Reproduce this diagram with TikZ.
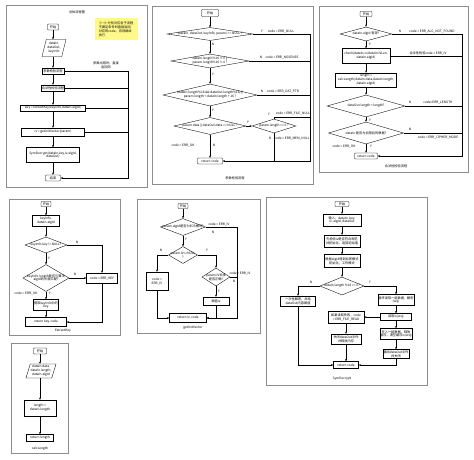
\documentclass[tikz,border=0pt]{standalone}
\usepackage{fontspec}
\setmainfont{Noto Sans CJK SC}
\usetikzlibrary{positioning,arrows.meta,shapes.geometric}

\begin{document}
\begin{tikzpicture}[
    x=1pt, y=-1pt,
    font=\fontsize{3.2}{3.9}\selectfont,
    line width=0.35pt,
    panel/.style={draw=black!45, line width=0.7pt},
    proc/.style={draw, align=center, inner sep=0.3pt},
    term/.style={draw, rounded corners=0.8pt, align=center, inner sep=0.3pt},
    dec/.style={diamond, draw, inner sep=0pt},
    dtxt/.style={align=center, inner sep=0pt},
    io/.style={trapezium, trapezium left angle=70, trapezium right angle=110, trapezium stretches body=true, draw, align=center, inner sep=0.3pt},
    note/.style={fill=yellow!45, align=left, inner sep=1pt},
    lab/.style={inner sep=0pt},
    edge/.style={-{Stealth[length=2.2pt, width=1.8pt]}}
]
\useasboundingbox (0,0) rectangle (474,460);

% overall flow
\draw[panel] (6,5) rectangle (147,187);
\node[lab] (t1) at (77,12) {总体流程图};
\node[note, minimum width=43pt, minimum height=22pt] (n1) at (116,29) {①\textasciitilde④ 分别对应各子流程\\不满足条件时直接返回\\对应的code，否则继续\\执行};
\node[term, minimum width=11pt, minimum height=6pt] (a0) at (53,27) {开始};
\node[io, minimum width=24pt, minimum height=17pt] (a1) at (54,48) {dataIn,\\dataOut,\\keyInfo};
\node[proc, minimum width=22pt, minimum height=6pt] (a2) at (53,71) {参数检验流程};
\node[proc, minimum width=22pt, minimum height=6pt] (a3) at (53,88) {合法性检验流程};
\node[proc, minimum width=65pt, minimum height=6pt] (a4) at (53,108) {key = ExtractKey(keyInfo,dataIn.algId)};
\node[proc, minimum width=63pt, minimum height=8pt] (a5) at (53,132) {iv = getInitVector(param)};
\node[proc, minimum width=53pt, minimum height=15pt] (a6) at (53,155) {SymDecrypt(dataIn,key,iv,algId,\\dataOut)};
\node[term, minimum width=15pt, minimum height=6pt] (a7) at (53,178) {结束};
\node[lab, align=center] (l1) at (106,65) {参数出错时，直接\\返回码};
\coordinate (p1r) at (128,0);

\draw[edge] (a0) -- (a0 |- a1.north);
\draw[edge] (a1.south -| a0) -- (a2);
\draw[edge] (a2) -- (a3);
\draw[edge] (a3) -- (a4);
\draw[edge] (a4) -- (a5);
\draw[edge] (a5) -- (a6);
\draw[edge] (a6) -- (a7);
\draw (a3.east) -- (a3.east -| p1r);
\draw (a4.east) -- (a4.east -| p1r);
\draw (a5.east) -- (a5.east -| p1r);
\draw[edge] (a2.east) -- (a2.east -| p1r) -- (a7.east -| p1r) -- (a7.east);

% parameter check
\draw[panel] (152,6) rectangle (313,184);
\node[term, minimum width=17pt, minimum height=7pt] (b0) at (210,13) {开始};
\node[dec, minimum width=86pt, minimum height=13pt, label={[dtxt]center:{(dataIn, dataOut, keyInfo, param) == NULL ?}}] (b1) at (210,34) {};
\node[dec, minimum width=78pt, minimum height=14pt, label={[dtxt]center:{dataIn.length\%16 != 0 ||\\param.length\%16 != 0 ?}}] (b2) at (210,61) {};
\node[dec, minimum width=94pt, minimum height=22pt, label={[dtxt]center:{(dataIn.length\%16 \&\& dataOut.length\%16) ||\\param.length < dataIn.length + 16 ?}}] (b3) at (210,95) {};
\node[dec, minimum width=72pt, minimum height=17pt, label={[dtxt]center:{param.data || dataOut.data == NULL ?}}] (b4) at (210,126) {};
\node[dec, minimum width=44pt, minimum height=14pt, label={[dtxt]center:{param.length == 0 ?}}] (b5) at (274,126) {};
\node[term, minimum width=25pt, minimum height=6pt] (b6) at (210,161) {return code};
\node[lab] (t2) at (235,178) {参数检验流程};
\coordinate (p2r) at (310,0);
\coordinate (b5t) at (274,117);

\node[lab] (l2a) at (262,31) {Y};
\node[lab] (l2b) at (281,31) {code = ERR\_NULL};
\node[lab] (l2c) at (213,44) {N};
\node[lab] (l2d) at (261,57) {N};
\node[lab] (l2e) at (282,57) {code = ERR\_NOSENSE};
\node[lab] (l2f) at (213,74) {Y};
\node[lab] (l2g) at (262,91) {N};
\node[lab] (l2h) at (283,91) {code = ERR\_DAT\_PTR};
\node[lab] (l2i) at (213,110) {Y};
\node[lab] (l2j) at (248,122) {Y};
\node[lab] (l2k) at (269,114) {Y};
\node[lab] (l2l) at (293,113) {code = ERR\_FILE\_NULL};
\node[lab] (l2m) at (270,138) {N};
\node[lab] (l2n) at (292,138) {code = ERR\_MEM\_NULL};
\node[lab] (l2o) at (183,145) {code = ERR\_OK};
\node[lab] (l2p) at (214,145) {N};

\draw[edge] (b0) -- (b1);
\draw[edge] (b1) -- (b2);
\draw[edge] (b2) -- (b3);
\draw[edge] (b3) -- (b4);
\draw[edge] (b4) -- (b6);
\draw[edge] (b4) -- (b5);
\draw (b1.east) -- (b1.east -| p2r);
\draw (b2.east) -- (b2.east -| p2r);
\draw (b3.east) -- (b3.east -| p2r);
\draw (b5.north) -- (b5t) -- (b5t -| p2r);
\draw (b5.south) -- (b5.south |- b6);
\draw[edge] (b1.east -| p2r) -- (b6.east -| p2r) -- (b6.east);

% validity check
\draw[panel] (319,6) rectangle (468,172);
\node[term, minimum width=12pt, minimum height=5pt] (c0) at (366,14) {开始};
\node[dec, minimum width=52pt, minimum height=14pt, label={[dtxt]center:{dataIn.algId 有效?}}] (c1) at (366,34) {};
\node[proc, minimum width=48pt, minimum height=15pt] (c2) at (366,56) {check(dataIn.iv/dataIn.IVLen,\\dataIn.algId)};
\node[proc, minimum width=61pt, minimum height=14pt] (c3) at (366,80) {length =\\calcLength(dataIn.data,dataIn.length,\\dataIn.algId)};
\node[dec, minimum width=78pt, minimum height=22pt, label={[dtxt]center:{dataOut.length < length?}}] (c4) at (366,106) {};
\node[dec, minimum width=75pt, minimum height=22pt, label={[dtxt]center:{dataIn 是否为加密后的数据?}}] (c5) at (366,133) {};
\node[term, minimum width=23pt, minimum height=6pt] (c6) at (366,156) {return code};
\node[lab] (t3) at (396,166) {合法性检验流程};
\coordinate (p3r) at (462,0);

\node[lab] (l3a) at (400,31) {N};
\node[lab] (l3b) at (432,31) {code = ERR\_ALG\_NOT\_FOUND};
\node[lab] (l3c) at (370,44) {Y};
\node[lab] (l3d) at (428,53) {合法性检验code = ERR\_IV};
\node[lab] (l3e) at (410,102) {N};
\node[lab] (l3f) at (438,102) {code=ERR\_LENGTH};
\node[lab] (l3g) at (370,120) {Y};
\node[lab] (l3h) at (410,129) {N};
\node[lab] (l3i) at (438,137) {code = ERR\_CIPHER\_MODE};
\node[lab] (l3j) at (344,146) {code = ERR\_OK};
\node[lab] (l3k) at (371,146) {Y};

\draw[edge] (c0) -- (c1);
\draw[edge] (c1) -- (c2);
\draw[edge] (c2) -- (c3);
\draw[edge] (c3) -- (c4);
\draw[edge] (c4) -- (c5);
\draw[edge] (c5) -- (c6);
\draw (c2.east) -- (c2.east -| p3r);
\draw (c4.east) -- (c4.east -| p3r);
\draw (c5.east) -- (c5.east -| p3r);
\draw[edge] (c1.east) -- (c1.east -| p3r) -- (c6.east -| p3r) -- (c6.east);

% ExtractKey
\draw[panel] (9,199) rectangle (120,335);
\node[term, minimum width=10pt, minimum height=5pt] (d0) at (46,204) {开始};
\node[proc, minimum width=27pt, minimum height=11pt] (d1) at (46,221) {keyInfo,\\dataIn.algId};
\node[dec, minimum width=42pt, minimum height=16pt, label={[dtxt]center:{keyInfo.key != NULL?}}] (d2) at (46,245) {};
\node[dec, minimum width=46pt, minimum height=27pt, label={[dtxt]center:{keyInfo.length是否与算法\\algId的长度匹配?}}] (d3) at (46,278) {};
\node[proc, minimum width=31pt, minimum height=10pt] (d4) at (102,278) {code = ERR\_KEY};
\node[proc, minimum width=25pt, minimum height=11pt] (d5) at (46,305) {提取keyInfo中的\\key};
\node[proc, minimum width=41pt, minimum height=9pt] (d6) at (46,322) {return key, code};
\node[lab] (t4) at (63,331) {ExtractKey};

\node[lab] (l4a) at (77,242) {N};
\node[lab] (l4b) at (49,258) {Y};
\node[lab] (l4c) at (75,274) {N};
\node[lab] (l4d) at (26,293) {code = ERR\_OK};
\node[lab] (l4e) at (50,293) {Y};

\draw[edge] (d0) -- (d1);
\draw[edge] (d1) -- (d2);
\draw[edge] (d2) -- (d3);
\draw[edge] (d2.east) -| (d4.north);
\draw[edge] (d3) -- (d4);
\draw[edge] (d3) -- (d5);
\draw[edge] (d5) -- (d6);
\draw[edge] (d4.south) |- (d6.east);

% getInitVector
\draw[panel] (137,199) rectangle (260,333);
\node[term, minimum width=10pt, minimum height=5pt] (e0) at (183,206) {开始};
\node[dec, minimum width=45pt, minimum height=17pt, label={[dtxt]center:{param.algId是否为ECB模式?}}] (e1) at (183,227) {};
\node[dec, minimum width=29pt, minimum height=17pt, label={[dtxt]center:{param.IV==NULL\\?}}] (e2) at (183,255) {};
\node[proc, minimum width=22pt, minimum height=18pt] (e3) at (157,281) {code =\\ERR\_IV};
\node[dec, minimum width=28pt, minimum height=18pt, label={[dtxt]center:{param.IV长度\\是否正确?}}] (e4) at (216,277) {};
\node[proc, minimum width=26pt, minimum height=8pt] (e5) at (216,301) {赋值iv};
\node[proc, minimum width=37pt, minimum height=9pt] (e6) at (188,318) {return iv, code};
\node[lab] (t5) at (193,328) {getInitVector};
\coordinate (p5r) at (237,0);

\node[lab] (l5a) at (219,224) {code = ERR\_IV};
\node[lab] (l5b) at (213,232) {N};
\node[lab] (l5c) at (186,239) {Y};
\node[lab] (l5d) at (161,250) {N};
\node[lab] (l5e) at (207,250) {Y};
\node[lab] (l5f) at (240,273) {code = ERR\_IV};
\node[lab] (l5g) at (234,281) {N};
\node[lab] (l5h) at (219,291) {Y};

\draw[edge] (e0) -- (e1);
\draw[edge] (e1) -- (e2);
\draw[edge] (e2.west) -| (e3.north);
\draw[edge] (e2.east) -| (e4.north);
\draw[edge] (e4) -- (e5);
\draw (e4.east) -- (e4.east -| p5r);
\draw[edge] (e1.east) -| (p5r |- e6.east) -- (e6.east);
\draw[edge] (e3.south) |- (e6.west);
\draw[edge] (e5.south) |- (e6.east);

% SymDecrypt
\draw[panel] (266,197) rectangle (427,385);
\node[term, minimum width=14pt, minimum height=5pt] (f0) at (342,204) {开始};
\node[proc, minimum width=38pt, minimum height=12pt] (f1) at (342,220) {输入：dataIn, key,\\iv, algId, dataOut};
\node[proc, minimum width=36pt, minimum height=12pt] (f2) at (342,241) {先检验iv是否符合规范\\并初始化，返回初始值};
\node[proc, minimum width=36pt, minimum height=13pt] (f3) at (342,261) {根据algId得到加密模式\\初始化，工作模式};
\node[dec, minimum width=44pt, minimum height=18pt, label={[dtxt]center:{dataIn.length \%16 == 0?}}] (f4) at (342,286) {};
\node[proc, minimum width=35pt, minimum height=10pt] (f5) at (298,301) {一次性解密，并给\\dataOut内容赋值};
\node[proc, minimum width=35pt, minimum height=11pt] (f6) at (396,300) {循环读取一组数据，解密\\(wq)};
\node[proc, minimum width=31pt, minimum height=7pt] (f7) at (396,317) {读取iv(wq)};
\node[proc, minimum width=36pt, minimum height=12pt] (f8) at (346,317) {如果读取失败，code\\= ERR\_FILE\_READ};
\node[proc, minimum width=31pt, minimum height=11pt] (f9) at (396,334) {写入一组数据，释放\\缓存，清空缓存iv(wq)};
\node[proc, minimum width=22pt, minimum height=9pt] (f10) at (396,354) {输出dataOut文件\\并关闭};
\node[proc, minimum width=30pt, minimum height=10pt] (f11) at (346,339) {关闭dataOut文件\\并释放内存};
\node[proc, minimum width=25pt, minimum height=7pt] (f12) at (346,365) {return code};
\node[lab] (t6) at (342,379) {SymDecrypt};

\node[lab] (l6a) at (311,282) {N};
\node[lab] (l6b) at (370,282) {Y};

\draw[edge] (f0) -- (f1);
\draw[edge] (f1) -- (f2);
\draw[edge] (f2) -- (f3);
\draw[edge] (f3) -- (f4);
\draw[edge] (f4.west) -| (f5.north);
\draw[edge] (f4.east) -| (f6.north);
\draw[edge] (f6) -- (f7);
\draw[edge] (f7) -- (f8);
\draw[edge] (f7) -- (f9);
\draw[edge] (f9) -- (f10);
\draw[edge] (f8) -- (f11);
\draw[edge] (f11) -- (f12);
\draw[edge] (f5.south) |- (f12.west);
\draw[edge] (f10.south) |- (f12.east);

% calcLength
\draw[panel] (11,343) rectangle (68,453);
\node[term, minimum width=13pt, minimum height=6pt] (g0) at (40,351) {开始};
\node[io, minimum width=28pt, minimum height=14pt] (g1) at (41,371) {dataIn.data,\\dataIn.length,\\dataIn.algId};
\node[proc, minimum width=32pt, minimum height=16pt] (g2) at (40,408) {length =\\dataIn.length};
\node[proc, minimum width=27pt, minimum height=7pt] (g3) at (40,438) {return length};
\node[lab] (t7) at (40,449) {calcLength};

\draw[edge] (g0) -- (g0 |- g1.north);
\draw[edge] (g1.south -| g0) -- (g2);
\draw[edge] (g2) -- (g3);
\end{tikzpicture}
\end{document}
